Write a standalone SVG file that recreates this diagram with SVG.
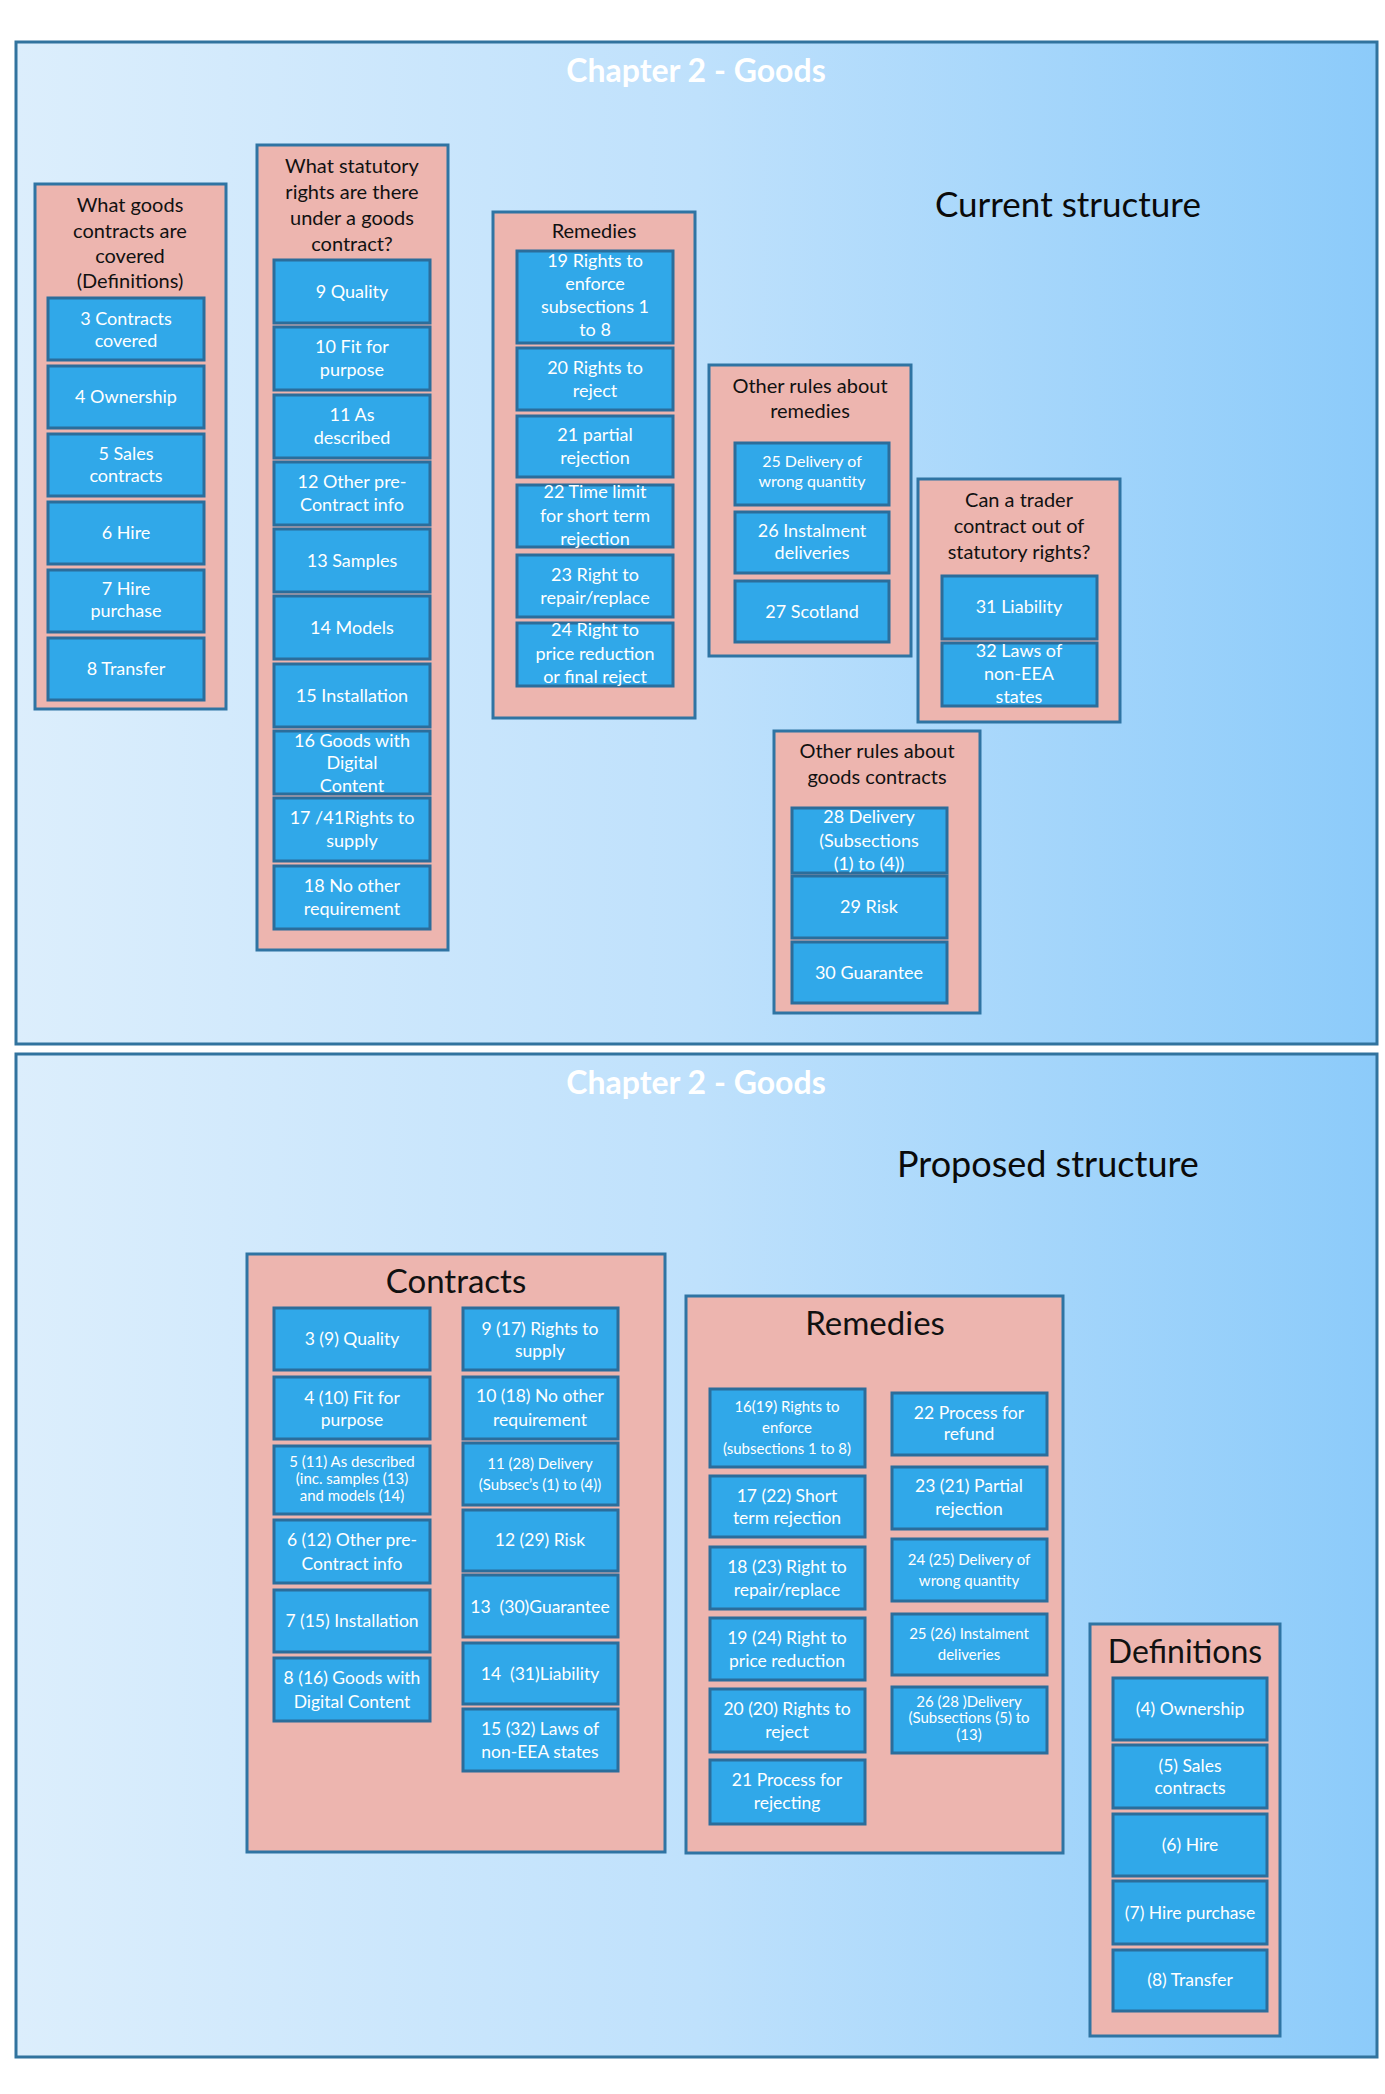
<svg xmlns="http://www.w3.org/2000/svg" width="1385" height="2094" viewBox="0 0 1385 2094">
<defs>
<linearGradient id="bg" x1="0" y1="0" x2="1" y2="0">
<stop offset="0" stop-color="#dceefc"/>
<stop offset="0.5" stop-color="#bfe1fc"/>
<stop offset="1" stop-color="#8ccbfa"/>
</linearGradient>
<style>
.panel{fill:url(#bg);stroke:#31739e;stroke-width:3}
.grp{fill:#edb5af;stroke:#2f74a3;stroke-width:3}
.item{fill:#30a8e9;stroke:#2b6d9b;stroke-width:3}
text{font-family:Lato,"Liberation Sans",sans-serif;text-anchor:middle}
.chap{font-size:32px;font-weight:bold;fill:#ffffff}
.big{font-size:35px;fill:#0a0a0a;text-anchor:start}
.ttl{font-size:20px;fill:#111111}
.hd{font-size:33px;fill:#111111}
.lbl{font-size:18px;fill:#ffffff}
.s16{font-size:16px;fill:#ffffff}
.s15{font-size:15px;fill:#ffffff}
.b{font-size:17.5px;fill:#ffffff}
</style>
</defs>

<g id="panel-current">
<rect class="panel" x="16" y="42" width="1361" height="1002"/>
<text class="chap" x="696" y="82">Chapter 2 - Goods</text>
<text class="big" x="935" y="217">Current structure</text>
</g>

<g id="panel-proposed">
<rect class="panel" x="16" y="1054" width="1361" height="1003"/>
<text class="chap" x="696" y="1094">Chapter 2 - Goods</text>
<text class="big" x="897" y="1177" style="font-size:36px">Proposed structure</text>
</g>

<g id="connectors"/>

<!-- Current structure -->
<g id="definitions-current">
<rect class="grp" x="35" y="184" width="191" height="525"/>
<text class="ttl" x="130" y="212">What goods</text>
<text class="ttl" x="130" y="238">contracts are</text>
<text class="ttl" x="130" y="263">covered</text>
<text class="ttl" x="130" y="288">(Definitions)</text>
<rect class="item" x="48" y="298" width="156" height="62"/>
<text class="lbl" x="126" y="325">3 Contracts</text>
<text class="lbl" x="126" y="347">covered</text>
<rect class="item" x="48" y="366" width="156" height="62"/>
<text class="lbl" x="126" y="403">4 Ownership</text>
<rect class="item" x="48" y="434" width="156" height="62"/>
<text class="lbl" x="126" y="460">5 Sales</text>
<text class="lbl" x="126" y="482">contracts</text>
<rect class="item" x="48" y="502" width="156" height="62"/>
<text class="lbl" x="126" y="539">6 Hire</text>
<rect class="item" x="48" y="570" width="156" height="62"/>
<text class="lbl" x="126" y="595">7 Hire</text>
<text class="lbl" x="126" y="617">purchase</text>
<rect class="item" x="48" y="638" width="156" height="62"/>
<text class="lbl" x="126" y="675">8 Transfer</text>
</g>

<g id="statutory-rights">
<rect class="grp" x="257" y="145" width="191" height="805"/>
<text class="ttl" x="352" y="173">What statutory</text>
<text class="ttl" x="352" y="199">rights are there</text>
<text class="ttl" x="352" y="225">under a goods</text>
<text class="ttl" x="352" y="251">contract?</text>
<rect class="item" x="274" y="260" width="156" height="63"/>
<text class="lbl" x="352" y="298">9 Quality</text>
<rect class="item" x="274" y="327" width="156" height="63"/>
<text class="lbl" x="352" y="353">10 Fit for</text>
<text class="lbl" x="352" y="376">purpose</text>
<rect class="item" x="274" y="395" width="156" height="63"/>
<text class="lbl" x="352" y="421">11 As</text>
<text class="lbl" x="352" y="444">described</text>
<rect class="item" x="274" y="462" width="156" height="63"/>
<text class="lbl" x="352" y="488">12 Other pre-</text>
<text class="lbl" x="352" y="511">Contract info</text>
<rect class="item" x="274" y="529" width="156" height="63"/>
<text class="lbl" x="352" y="567">13 Samples</text>
<rect class="item" x="274" y="596" width="156" height="63"/>
<text class="lbl" x="352" y="634">14 Models</text>
<rect class="item" x="274" y="664" width="156" height="63"/>
<text class="lbl" x="352" y="702">15 Installation</text>
<rect class="item" x="274" y="731" width="156" height="63"/>
<text class="lbl" x="352" y="747">16 Goods with</text>
<text class="lbl" x="352" y="769">Digital</text>
<text class="lbl" x="352" y="792">Content</text>
<rect class="item" x="274" y="798" width="156" height="63"/>
<text class="lbl" x="352" y="824">17 /41Rights to</text>
<text class="lbl" x="352" y="847">supply</text>
<rect class="item" x="274" y="866" width="156" height="63"/>
<text class="lbl" x="352" y="892">18 No other</text>
<text class="lbl" x="352" y="915">requirement</text>
</g>

<g id="remedies-current">
<rect class="grp" x="493" y="212" width="202" height="506"/>
<text class="ttl" x="594" y="238">Remedies</text>
<rect class="item" x="517" y="251" width="156" height="92"/>
<text class="lbl" x="595" y="267">19 Rights to</text>
<text class="lbl" x="595" y="290">enforce</text>
<text class="lbl" x="595" y="313">subsections 1</text>
<text class="lbl" x="595" y="336">to 8</text>
<rect class="item" x="517" y="348" width="156" height="62"/>
<text class="lbl" x="595" y="374">20 Rights to</text>
<text class="lbl" x="595" y="397">reject</text>
<rect class="item" x="517" y="416" width="156" height="61"/>
<text class="lbl" x="595" y="441">21 partial</text>
<text class="lbl" x="595" y="464">rejection</text>
<rect class="item" x="517" y="485" width="156" height="62"/>
<text class="lbl" x="595" y="498">22 Time limit</text>
<text class="lbl" x="595" y="522">for short term</text>
<text class="lbl" x="595" y="545">rejection</text>
<rect class="item" x="517" y="555" width="156" height="62"/>
<text class="lbl" x="595" y="581">23 Right to</text>
<text class="lbl" x="595" y="604">repair/replace</text>
<rect class="item" x="517" y="623" width="156" height="63"/>
<text class="lbl" x="595" y="636">24 Right to</text>
<text class="lbl" x="595" y="660">price reduction</text>
<text class="lbl" x="595" y="683">or final reject</text>
</g>

<g id="other-remedies">
<rect class="grp" x="709" y="365" width="202" height="291"/>
<text class="ttl" x="810" y="393">Other rules about</text>
<text class="ttl" x="810" y="418">remedies</text>
<rect class="item" x="735" y="443" width="154" height="62"/>
<text class="s16" x="812" y="467">25 Delivery of</text>
<text class="s16" x="812" y="487">wrong quantity</text>
<rect class="item" x="735" y="512" width="154" height="61"/>
<text class="lbl" x="812" y="537">26 Instalment</text>
<text class="lbl" x="812" y="559">deliveries</text>
<rect class="item" x="735" y="581" width="154" height="61"/>
<text class="lbl" x="812" y="618">27 Scotland</text>
</g>

<g id="contract-out">
<rect class="grp" x="918" y="479" width="202" height="243"/>
<text class="ttl" x="1019" y="507">Can a trader</text>
<text class="ttl" x="1019" y="533">contract out of</text>
<text class="ttl" x="1019" y="559">statutory rights?</text>
<rect class="item" x="942" y="576" width="155" height="63"/>
<text class="lbl" x="1019" y="613">31 Liability</text>
<rect class="item" x="942" y="643" width="155" height="63"/>
<text class="lbl" x="1019" y="657">32 Laws of</text>
<text class="lbl" x="1019" y="680">non-EEA</text>
<text class="lbl" x="1019" y="703">states</text>
</g>

<g id="other-goods">
<rect class="grp" x="774" y="731" width="206" height="282"/>
<text class="ttl" x="877" y="758">Other rules about</text>
<text class="ttl" x="877" y="784">goods contracts</text>
<rect class="item" x="792" y="808" width="155" height="65"/>
<text class="lbl" x="869" y="823">28 Delivery</text>
<text class="lbl" x="869" y="847">(Subsections</text>
<text class="lbl" x="869" y="870">(1) to (4))</text>
<rect class="item" x="792" y="876" width="155" height="62"/>
<text class="lbl" x="869" y="913">29 Risk</text>
<rect class="item" x="792" y="942" width="155" height="61"/>
<text class="lbl" x="869" y="979">30 Guarantee</text>
</g>

<!-- Proposed structure -->
<g id="contracts">
<rect class="grp" x="247" y="1254" width="418" height="598"/>
<text class="hd" x="456" y="1293">Contracts</text>
<rect class="item" x="274" y="1308" width="156" height="62"/>
<text class="b" x="352" y="1345">3 (9) Quality</text>
<rect class="item" x="274" y="1377" width="156" height="62"/>
<text class="b" x="352" y="1404">4 (10) Fit for</text>
<text class="b" x="352" y="1426">purpose</text>
<rect class="item" x="274" y="1446" width="156" height="68"/>
<text class="s15" x="352" y="1467">5 (11) As described</text>
<text class="s15" x="352" y="1484">(inc. samples (13)</text>
<text class="s15" x="352" y="1501">and models (14)</text>
<rect class="item" x="274" y="1520" width="156" height="63"/>
<text class="b" x="352" y="1546">6 (12) Other pre-</text>
<text class="b" x="352" y="1570">Contract info</text>
<rect class="item" x="274" y="1590" width="156" height="62"/>
<text class="b" x="352" y="1627">7 (15) Installation</text>
<rect class="item" x="274" y="1658" width="156" height="63"/>
<text class="b" x="352" y="1684">8 (16) Goods with</text>
<text class="b" x="352" y="1708">Digital Content</text>

<rect class="item" x="463" y="1308" width="155" height="62"/>
<text class="b" x="540" y="1335">9 (17) Rights to</text>
<text class="b" x="540" y="1357">supply</text>
<rect class="item" x="463" y="1377" width="155" height="62"/>
<text class="b" x="540" y="1402">10 (18) No other</text>
<text class="b" x="540" y="1426">requirement</text>
<rect class="item" x="463" y="1443" width="155" height="62"/>
<text class="s15" x="540" y="1469">11 (28) Delivery</text>
<text class="s15" x="540" y="1490">(Subsec’s (1) to (4))</text>
<rect class="item" x="463" y="1510" width="155" height="61"/>
<text class="b" x="540" y="1546">12 (29) Risk</text>
<rect class="item" x="463" y="1575" width="155" height="62"/>
<text class="b" x="540" y="1613" xml:space="preserve">13  (30)Guarantee</text>
<rect class="item" x="463" y="1643" width="155" height="61"/>
<text class="b" x="540" y="1680" xml:space="preserve">14  (31)Liability</text>
<rect class="item" x="463" y="1709" width="155" height="62"/>
<text class="b" x="540" y="1735">15 (32) Laws of</text>
<text class="b" x="540" y="1758">non-EEA states</text>
</g>

<g id="remedies-proposed">
<rect class="grp" x="686" y="1296" width="377" height="557"/>
<text class="hd" x="875" y="1335">Remedies</text>
<rect class="item" x="710" y="1389" width="155" height="78"/>
<text class="s15" x="787" y="1412">16(19) Rights to</text>
<text class="s15" x="787" y="1433">enforce</text>
<text class="s15" x="787" y="1454">(subsections 1 to 8)</text>
<rect class="item" x="710" y="1476" width="155" height="61"/>
<text class="b" x="787" y="1502">17 (22) Short</text>
<text class="b" x="787" y="1524">term rejection</text>
<rect class="item" x="710" y="1547" width="155" height="62"/>
<text class="b" x="787" y="1573">18 (23) Right to</text>
<text class="b" x="787" y="1596">repair/replace</text>
<rect class="item" x="710" y="1618" width="155" height="62"/>
<text class="b" x="787" y="1644">19 (24) Right to</text>
<text class="b" x="787" y="1667">price reduction</text>
<rect class="item" x="710" y="1689" width="155" height="63"/>
<text class="b" x="787" y="1715">20 (20) Rights to</text>
<text class="b" x="787" y="1738">reject</text>
<rect class="item" x="710" y="1760" width="155" height="64"/>
<text class="b" x="787" y="1786">21 Process for</text>
<text class="b" x="787" y="1809">rejecting</text>

<rect class="item" x="892" y="1393" width="155" height="62"/>
<text class="b" x="969" y="1419">22 Process for</text>
<text class="b" x="969" y="1440">refund</text>
<rect class="item" x="892" y="1467" width="155" height="62"/>
<text class="b" x="969" y="1492">23 (21) Partial</text>
<text class="b" x="969" y="1515">rejection</text>
<rect class="item" x="892" y="1539" width="155" height="62"/>
<text class="s15" x="969" y="1565">24 (25) Delivery of</text>
<text class="s15" x="969" y="1586">wrong quantity</text>
<rect class="item" x="892" y="1614" width="155" height="61"/>
<text class="s15" x="969" y="1639">25 (26) Instalment</text>
<text class="s15" x="969" y="1660">deliveries</text>
<rect class="item" x="892" y="1687" width="155" height="66"/>
<text class="s15" x="969" y="1707">26 (28 )Delivery</text>
<text class="s15" x="969" y="1723">(Subsections (5) to</text>
<text class="s15" x="969" y="1740">(13)</text>
</g>

<g id="definitions-proposed">
<rect class="grp" x="1090" y="1624" width="190" height="412"/>
<text class="hd" x="1185" y="1663" style="font-size:32px">Definitions</text>
<rect class="item" x="1113" y="1678" width="154" height="62"/>
<text class="b" x="1190" y="1715">(4) Ownership</text>
<rect class="item" x="1113" y="1745" width="154" height="63"/>
<text class="b" x="1190" y="1772">(5) Sales</text>
<text class="b" x="1190" y="1794">contracts</text>
<rect class="item" x="1113" y="1814" width="154" height="62"/>
<text class="b" x="1190" y="1851">(6) Hire</text>
<rect class="item" x="1113" y="1881" width="154" height="63"/>
<text class="b" x="1190" y="1919">(7) Hire purchase</text>
<rect class="item" x="1113" y="1950" width="154" height="61"/>
<text class="b" x="1190" y="1986">(8) Transfer</text>
</g>
</svg>
